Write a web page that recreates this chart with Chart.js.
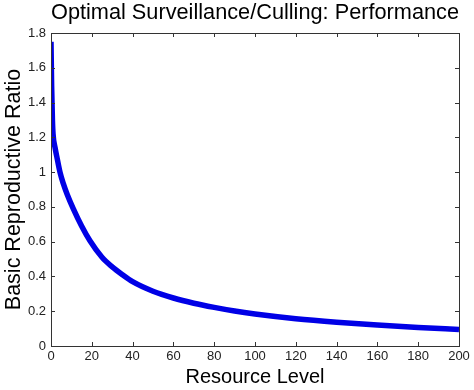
<!DOCTYPE html>
<html>
<head>
<meta charset="utf-8">
<script src="https://cdn.jsdelivr.net/npm/chart.js@4.4.0/dist/chart.umd.min.js"></script>
<style>
  html, body { margin: 0; padding: 0; background: #fff; }
  #wrap { width: 474px; height: 390px; }
</style>
</head>
<body>
<div id="wrap"><canvas id="chart" width="474" height="390"></canvas></div>
<script>
// values
const resourceLevel = [0, 0.3, 0.7, 1, 2, 3, 4.4, 6, 8, 10.9, 15, 19.1, 25, 30, 35, 40, 50, 60, 70, 80, 90, 100, 120, 140, 160, 180, 200];
const basicRatio    = [1.75, 1.5, 1.3, 1.22, 1.14, 1.08, 1.0, 0.935, 0.87, 0.79, 0.69, 0.605, 0.51, 0.455, 0.41, 0.37, 0.315, 0.276, 0.246, 0.222, 0.201, 0.184, 0.157, 0.137, 0.121, 0.107, 0.095];
const xTicks = [0, 200, 20];   // min, max, step
const yTicks = [0, 1.8, 0.2];

const FONT = 'Arial, "Liberation Sans", sans-serif';
const AXIS_COLOR = '#333';

// MATLAB-style box with inward ticks on all four sides
const boxPlugin = {
    id: 'matlabBox',
    afterDraw(chart) {
        const { ctx, chartArea: a, scales } = chart;
        const tl = 4;
        ctx.save();
        ctx.strokeStyle = AXIS_COLOR;
        ctx.lineWidth = 1;
        ctx.beginPath();
        scales.x.ticks.forEach(t => {
            const px = Math.round(scales.x.getPixelForValue(t.value)) + 0.5;
            ctx.moveTo(px, a.bottom); ctx.lineTo(px, a.bottom - tl);
            ctx.moveTo(px, a.top); ctx.lineTo(px, a.top + tl);
        });
        scales.y.ticks.forEach(t => {
            const py = Math.round(scales.y.getPixelForValue(t.value)) + 0.5;
            ctx.moveTo(a.left, py); ctx.lineTo(a.left + tl, py);
            ctx.moveTo(a.right, py); ctx.lineTo(a.right - tl, py);
        });
        ctx.stroke();
        ctx.strokeRect(Math.round(a.left) + 0.5, Math.round(a.top) + 0.5,
            Math.round(a.right - a.left), Math.round(a.bottom - a.top));
        ctx.restore();
    }
};

new Chart(document.getElementById('chart').getContext('2d'), {
    type: 'line',
    data: {
        datasets: [{
            data: resourceLevel.map((x, i) => ({ x: x, y: basicRatio[i] })),
            borderColor: '#0000e6',
            borderWidth: 5.5,
            pointRadius: 0,
            cubicInterpolationMode: 'monotone',
            fill: false
        }]
    },
    options: {
        responsive: false,
        animation: false,
        events: [],
        layout: { padding: { left: 0, right: 15, top: 0, bottom: 0 } },
        plugins: {
            legend: { display: false },
            tooltip: { enabled: false },
            title: {
                display: true,
                text: 'Optimal Surveillance/Culling: Performance',
                fullSize: false,
                color: '#000',
                font: { family: FONT, size: 22, weight: 'normal', lineHeight: 1.2 },
                padding: { top: 0, bottom: 6.6 }
            }
        },
        scales: {
            x: {
                type: 'linear',
                min: xTicks[0],
                max: xTicks[1],
                afterFit: s => { s.height = 44; },
                grid: { display: false, drawTicks: false },
                border: { display: false },
                ticks: {
                    stepSize: xTicks[2],
                    padding: 3,
                    color: '#222',
                    font: { family: FONT, size: 13 },
                    maxRotation: 0
                },
                title: {
                    display: true,
                    text: 'Resource Level',
                    color: '#000',
                    font: { family: FONT, size: 20, lineHeight: 1.2 },
                    padding: { top: 0, bottom: 1 }
                }
            },
            y: {
                min: yTicks[0],
                max: yTicks[1],
                afterFit: s => { s.width = 51; },
                grid: { display: false, drawTicks: false },
                border: { display: false },
                ticks: {
                    stepSize: yTicks[2],
                    padding: 5,
                    color: '#222',
                    font: { family: FONT, size: 13 },
                    callback: v => String(Number(v.toFixed(1)))
                },
                title: {
                    display: true,
                    text: 'Basic Reproductive Ratio',
                    color: '#000',
                    font: { family: FONT, size: 21.5, lineHeight: 1.2 },
                    padding: { top: 1, bottom: 0 }
                }
            }
        }
    },
    plugins: [boxPlugin]
});
</script>
</body>
</html>
